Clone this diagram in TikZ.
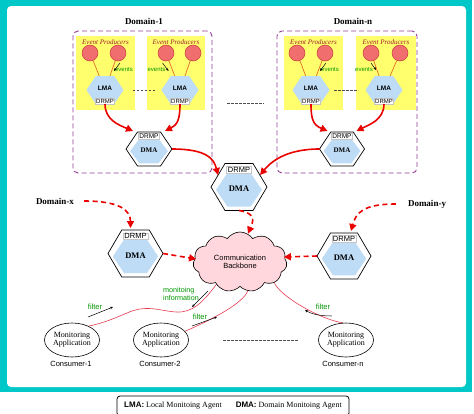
\documentclass[tikz,border=0pt]{standalone}
\usepackage{fontspec}
\setmainfont{Liberation Serif}
\setsansfont{Liberation Sans}
\usetikzlibrary{calc,shapes.geometric,shapes.symbols,arrows.meta}
\pgfdeclarelayer{frame}
\pgfdeclarelayer{lines}
\pgfsetlayers{frame,lines,main}

\definecolor{teal1}{RGB}{0,200,200}
\definecolor{ylw}{RGB}{255,255,110}
\definecolor{lblue}{RGB}{190,220,245}
\definecolor{pink1}{RGB}{255,215,220}
\definecolor{evred}{RGB}{240,110,110}
\definecolor{evedge}{RGB}{200,60,60}
\definecolor{orline}{RGB}{230,110,40}
\definecolor{evtxt}{RGB}{160,30,40}
\definecolor{purp}{RGB}{150,60,150}
\definecolor{grn}{RGB}{0,150,0}
\definecolor{arrred}{RGB}{235,0,0}
\definecolor{thinr}{RGB}{230,60,80}

\newcommand\fsz[1]{\fontsize{#1}{#1}\selectfont}
\newcommand\hexpath[1]{(#1.west) -- ($(#1.north west)!0.25!(#1.north east)$) -- ($(#1.north west)!0.75!(#1.north east)$) -- (#1.east) -- ($(#1.south west)!0.75!(#1.south east)$) -- ($(#1.south west)!0.25!(#1.south east)$) -- cycle}

% name, x, y, w, h, DMA font size, DRMP font size
\newcommand\dmaunit[7]{%
  \node[hexbox, minimum width=#4pt, minimum height=#5pt] (#1) at (#2,#3) {};
  \draw[hexout] \hexpath{#1};
  \node[hexbox, minimum width={0.82*#4pt}, minimum height={0.72*#5pt}] (#1-in) at ($(#1)+(0,{0.06*#5})$) {};
  \fill[lblue] \hexpath{#1-in};
  \node[drmpw, minimum width={0.45*#4pt}, font=\sffamily\fsz{#7}] (#1-d) at ($(#1.north)+(0,{0.13*#5})$) {DRMP};
  \node[font=\bfseries\fsz{#6}, inner sep=0pt] (#1-t) at ($(#1-in)+(0,-1)$) {DMA};
}
% name, x, y
\newcommand\lmaunit[3]{%
  \node[hexbox, minimum width=37pt, minimum height=28pt] (#1) at (#2,#3) {};
  \fill[lblue] \hexpath{#1};
  \node[lmatxt] (#1-t) at ($(#1)+(0,-2)$) {LMA};
  \node[drmpw, font=\sffamily\fsz{6}] (#1-d) at ($(#1)+(0,11)$) {DRMP};
}

\begin{document}
\begin{tikzpicture}[x=1pt,y=-1pt,
  hexbox/.style={rectangle, inner sep=0pt, outer sep=0pt},
  hexout/.style={draw=black, fill=white, line width=0.7pt},
  drmpw/.style={fill=white, draw=gray!45, line width=0.3pt, inner sep=0.8pt},
  lmatxt/.style={font=\sffamily\bfseries\fsz{6.5}, inner sep=0pt},
  evc/.style={circle, minimum size=16pt, inner sep=0pt, fill=evred, draw=evedge, line width=0.5pt},
  evline/.style={draw=orline, line width=0.7pt},
  ylwbox/.style={fill=ylw, inner sep=0pt, minimum height=74pt},
  evp/.style={font=\itshape\fsz{7}, text=evtxt, inner sep=0pt},
  evtext/.style={font=\sffamily\fsz{6}, text=grn, inner sep=0pt},
  smallarr/.style={draw=black, line width=0.5pt, -{Stealth[length=3pt,width=2.5pt]}},
  dombox/.style={draw=purp, line width=0.9pt, dash pattern=on 5pt off 3pt, rounded corners=5pt, inner sep=0pt},
  domlbl/.style={font=\bfseries\fsz{9}, inner sep=0pt},
  redarr/.style={draw=arrred, line width=1.6pt, -{Triangle[length=7pt,width=7pt]}},
  reddash/.style={draw=arrred, line width=1.6pt, dash pattern=on 5pt off 3.5pt, -{Triangle[length=7pt,width=7pt]}},
  blkdash/.style={draw=black!70, line width=0.6pt, dash pattern=on 2.5pt off 1.5pt},
  backbone/.style={cloud, cloud puffs=11, cloud puff arc=110, aspect=1.6, minimum width=94pt, minimum height=60pt, fill=pink1, draw=black, line width=0.6pt, align=center, font=\sffamily\fsz{7.5}, inner sep=0pt},
  consumer/.style={ellipse, draw=black, line width=0.6pt, minimum width=55pt, minimum height=34pt, inner sep=0pt, align=center, font=\fsz{8}},
  conslbl/.style={font=\sffamily\fsz{7.5}, inner sep=0pt},
  filt/.style={font=\sffamily\fsz{7.5}, text=grn, inner sep=0pt},
  thinred/.style={draw=thinr, line width=0.6pt}
]
\useasboundingbox (0,0) rectangle (474,413);
\begin{pgfonlayer}{frame}
  \fill[white] (0,0) rectangle (474,413);
  \fill[teal1] (0,0) rectangle (472,392);
  \fill[white, rounded corners=4pt] (7,6) rectangle (466,387);
\end{pgfonlayer}

% domains
\node[dombox, minimum width=139pt, minimum height=142pt] (d1box) at (142.5,102) {};
\node[dombox, minimum width=140pt, minimum height=142pt] (dnbox) at (347,102) {};
\node[domlbl] (d1) at (144,21) {Domain-1};
\node[domlbl] (dn) at (353,21) {Domain-n};

% yellow boxes
\node[ylwbox, minimum width=59pt] (y1) at (105.5,73) {};
\node[ylwbox, minimum width=58pt] (y2) at (176,73) {};
\node[ylwbox, minimum width=59pt] (y3) at (313.5,73) {};
\node[ylwbox, minimum width=60pt] (y4) at (386,73) {};
\node[evp] (ep1) at ($(y1.north)+(0,6)$) {Event Producers};
\node[evp] (ep2) at ($(y2.north)+(0,6)$) {Event Producers};
\node[evp] (ep3) at ($(y3.north)+(0,6)$) {Event Producers};
\node[evp] (ep4) at ($(y4.north)+(0,6)$) {Event Producers};

% LMAs
\lmaunit{lma1}{105}{90}
\lmaunit{lma2}{180}{90}
\lmaunit{lma3}{311}{90}
\lmaunit{lma4}{384}{90}

% event producers
\node[evc] (e1a) at (90,53) {};
\node[evc] (e1b) at (118,53) {};
\node[evc] (e2a) at (166,53) {};
\node[evc] (e2b) at (193,53) {};
\node[evc] (e3a) at (297,53) {};
\node[evc] (e3b) at (325,53) {};
\node[evc] (e4a) at (371,53) {};
\node[evc] (e4b) at (400,53) {};
\draw[evline] (e1a) -- (lma1);
\draw[evline] (e1b) -- (lma1);
\draw[evline] (e2a) -- (lma2);
\draw[evline] (e2b) -- (lma2);
\draw[evline] (e3a) -- (lma3);
\draw[evline] (e3b) -- (lma3);
\draw[evline] (e4a) -- (lma4);
\draw[evline] (e4b) -- (lma4);

% events labels
\node[evtext] (ev1) at (124,70) {events};
\node[evtext] (ev2) at (156.5,70) {events};
\node[evtext] (ev3) at (330,70) {events};
\node[evtext] (ev4) at (364,70) {events};
\draw[smallarr] ($(ev1.west)+(5,-7)$) -- ++(-6,8);
\draw[smallarr] ($(ev2.east)+(-3,-7)$) -- ++(6,8);
\draw[smallarr] ($(ev3.west)+(5,-7)$) -- ++(-6,8);
\draw[smallarr] ($(ev4.east)+(-2,-7)$) -- ++(5,7);

% dashed between LMAs
\draw[blkdash, shorten <=9pt, shorten >=5pt] (lma1.east) -- (lma2.west);
\draw[blkdash, shorten <=4.5pt, shorten >=8.5pt] (lma3.east) -- (lma4.west);
\draw[blkdash] ($(d1box.east)+(15,1)$) -- ($(dnbox.west)+(-13,1)$);

% DMAs
\dmaunit{dma1}{149}{149}{46}{34}{7}{6.5}
\dmaunit{dman}{342}{149}{45}{34}{7}{6.5}
\dmaunit{dmac}{239}{187}{56}{47}{8.5}{7.5}
\dmaunit{dmax}{135.5}{253.5}{55}{47}{8.5}{7.5}
\dmaunit{dmay}{344}{256}{54}{46}{8.5}{7.5}

% domain x / y labels
\node[domlbl] (dx) at (55,201) {Domain-x};
\node[domlbl] (dy) at (427,204) {Domain-y};

% backbone
\node[backbone] (cb) at (240,262) {Communication\\[1pt]Backbone};

% consumers
\node[consumer] (c1) at (72,340) {Monitoring\\Application};
\node[consumer] (c2) at (161,340) {Monitoring\\Application};
\node[consumer] (cn) at (346,340) {Monitoring\\Application};
\node[conslbl] (c1l) at (71,364) {Consumer-1};
\node[conslbl] (c2l) at (160,364) {Consumer-2};
\node[conslbl] (cnl) at (343,364) {Consumer-n};
\draw[blkdash, shorten <=34.5pt, shorten >=20.5pt] (c2.east) -- (cn.west);

% thin red links
\begin{pgfonlayer}{lines}
\draw[thinred] ($(cb)+(-22,20)$) .. controls (203,303) and (192,313) .. (176,312) .. controls (160,311) and (147,304) .. (127,313) .. controls (115,318) and (104,323) .. (c1.40);
\draw[thinred] ($(cb)+(8,28)$) .. controls +(-3,12) and +(28,-12) .. (c2.20);
\draw[thinred] ($(cb)+(34,20)$) .. controls +(5,14) and +(-22,-3) .. (cn.100);
\end{pgfonlayer}

% filters and monitoring information
\node[filt] (f1) at (95,307) {filter};
\node[filt] (f2) at (200,317) {filter};
\node[filt] (f3) at (323,307) {filter};
\draw[smallarr] ($(f1)+(-7,10)$) -- ++(25,-10);
\draw[smallarr] ($(f2)+(-8,9)$) -- ++(25,-9);
\draw[smallarr] ($(f3)+(9,9)$) .. controls +(-15,0) and +(5,3) .. ($(f3)+(-18,3)$);
\node[filt, align=left, font=\sffamily\fontsize{7.2}{7.5}\selectfont] (mi) at (181,294) {monitoing\\information};
\draw[smallarr] ($(mi.east)+(9,-3)$) -- ++(-16,16);

% red arrows LMA -> DMA
\draw[redarr] (lma1-d.south) .. controls +(0,16) and +(-14,-6) .. ($(dma1.north west)+(7,-1)$);
\draw[redarr] (lma2-d.south) .. controls +(0,16) and +(12,-6) .. ($(dma1.north east)+(-7,-1)$);
\draw[redarr] (lma3-d.south) .. controls +(0,16) and +(-14,-6) .. ($(dman.north west)+(8,-1)$);
\draw[redarr] (lma4-d.south) .. controls +(0,16) and +(12,-6) .. ($(dman.north east)+(-8,-1)$);
% DMA -> central DMA
\draw[redarr] (dma1.east) .. controls +(35,0) and +(-4,-16) .. ($(dmac)+(-21,-12)$);
\draw[redarr] (dman.west) .. controls +(-35,0) and +(10,-12) .. ($(dmac)+(21,-12)$);

% dashed red arrows
\draw[reddash] (dmac.south) .. controls +(18,3) and +(5,-12) .. ($(cb.north)+(8,2)$);
\draw[reddash, shorten <=10pt] (dx.east) .. controls +(45,0) and +(0,-18) .. ($(dmax.north)+(-5,-2)$);
\draw[reddash] (dmax.east) -- ($(cb.west)+(3,-3)$);
\draw[reddash, shorten <=12pt] (dy.west) .. controls +(-45,0) and +(5,-18) .. ($(dmay.north)+(7,-2)$);
\draw[reddash] (dmay.west) -- ($(cb.east)+(-3,-5)$);

% legend
\node[draw=black, line width=0.8pt, rounded corners=3pt, minimum width=232pt, minimum height=20pt, inner sep=0pt, font=\fsz{8}] (leg) at (233,406)
  {\raisebox{1.5pt}{{\sffamily\bfseries LMA:} Local Monitoing Agent\hspace{14pt}{\sffamily\bfseries DMA:} Domain Monitoing Agent}};
\end{tikzpicture}
\end{document}
